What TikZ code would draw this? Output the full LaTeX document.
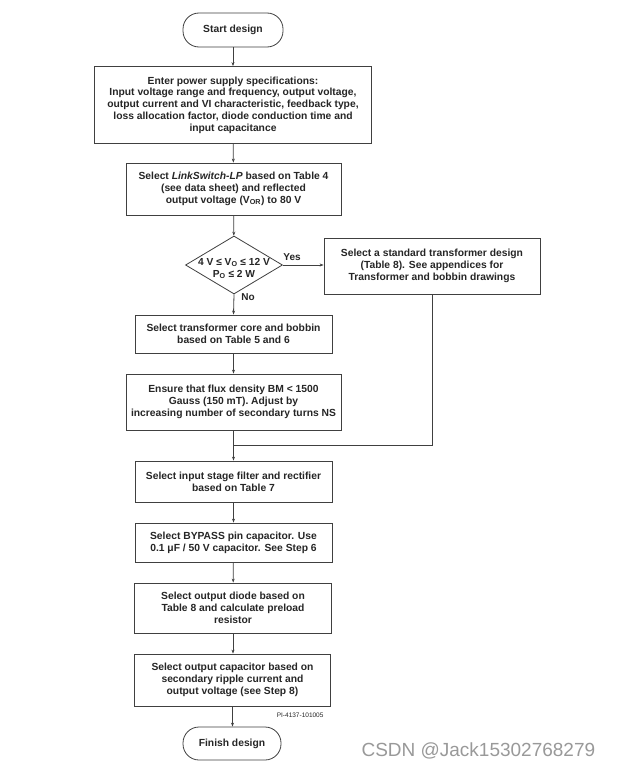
\documentclass[tikz,border=0pt]{standalone}
\usepackage{fontspec}
\setmainfont{Liberation Sans}
\usetikzlibrary{shapes.geometric,arrows.meta}
\begin{document}
\begin{tikzpicture}[x=1pt,y=-1pt,
  every node/.style={font=\fontsize{10.3}{11.7}\selectfont\bfseries, text=black!85},
  boxstyle/.style={draw=black!75, line width=0.8pt, align=center, inner sep=0pt},
  termstyle/.style={draw=black!75, line width=0.8pt, rounded corners=16pt, inner sep=0pt},
  conn/.style={draw=black!75, line width=0.8pt},
  arr/.style={conn, -{Stealth[length=4pt,width=3pt]}},
  lbl/.style={font=\fontsize{10}{11}\selectfont\bfseries}
]
\useasboundingbox (0,0) rectangle (622,768);
\fill[white] (0,0) rectangle (622,768);

\node[termstyle, minimum width=100pt, minimum height=34pt] (start) at (233,30) {Start design};
\node[boxstyle, minimum width=277pt, minimum height=77pt] (spec) at (233,105)
 {Enter power supply specifications:\\Input voltage range and frequency, output voltage,\\output current and VI characteristic, feedback type,\\loss allocation factor, diode conduction time and\\input capacitance};
\node[boxstyle, minimum width=215pt, minimum height=52pt] (sel) at (233.5,189)
 {Select \textit{LinkSwitch-LP} based on Table 4\\(see data sheet) and reflected\\output voltage (V\textsubscript{OR}) to 80 V};
\node[diamond, draw=black!75, line width=0.8pt, inner sep=0pt, minimum width=97pt, minimum height=58pt,
  label={[align=center, yshift=-3.5pt, font=\fontsize{10.2}{12.3}\selectfont\bfseries]center:4 V ≤ V\textsubscript{O} ≤ 12 V\\P\textsubscript{O} ≤ 2 W}] (dec) at (234,265) {};
\node[boxstyle, minimum width=216pt, minimum height=56pt] (std) at (432,266)
 {Select a standard transformer design\\(Table 8). See appendices for\\Transformer and bobbin drawings};
\node[boxstyle, minimum width=197pt, minimum height=38pt] (core) at (233.5,334)
 {Select transformer core and bobbin\\based on Table 5 and 6};
\node[boxstyle, minimum width=215pt, minimum height=56pt] (flux) at (233.5,402)
 {Ensure that flux density BM < 1500\\Gauss (150 mT). Adjust by\\increasing number of secondary turns NS};
\node[boxstyle, minimum width=197pt, minimum height=41pt] (inp) at (233.5,481.5)
 {Select input stage filter and rectifier\\based on Table 7};
\node[boxstyle, minimum width=197pt, minimum height=39pt] (byp) at (233.5,542.5)
 {Select BYPASS pin capacitor. Use\\0.1 μF / 50 V capacitor. See Step 6};
\node[boxstyle, minimum width=197pt, minimum height=50pt] (diode) at (233,608)
 {Select output diode based on\\Table 8 and calculate preload\\resistor};
\node[boxstyle, minimum width=196pt, minimum height=52pt] (cap) at (232.5,680)
 {Select output capacitor based on\\secondary ripple current and\\output voltage (see Step 8)};
\node[termstyle, minimum width=98pt, minimum height=33pt] (fin) at (232,743.5) {Finish design};

\node[font=\fontsize{6.5}{7}\selectfont, anchor=east] (pi) at (327,715) {PI-4137-101005};
\node[lbl] (yes) at (292,257) {Yes};
\node[lbl] (no) at (248,297) {No};
\node[font=\fontsize{19}{22}\selectfont, text=black!40, anchor=west] (wm) at (358,751) {CSDN @Jack15302768279};

\coordinate (merge) at (233.5,445);

\draw[arr] (start) -- (spec);
\draw[arr] (spec) -- (sel);
\draw[arr] (sel) -- (dec);
\draw[arr] (dec.east) -- (dec.east -| std.west);
\draw[arr] (dec.south) -- (core.north);
\draw[arr] (core) -- (flux);
\draw[arr] (flux) -- (inp);
\draw[conn] (std.south) |- (merge);
\draw[arr] (inp) -- (byp);
\draw[arr] (byp) -- (diode);
\draw[arr] (diode.south) -- (diode.south |- cap.north);
\draw[arr] (cap.south) -- (cap.south |- fin.north);
\end{tikzpicture}
\end{document}
